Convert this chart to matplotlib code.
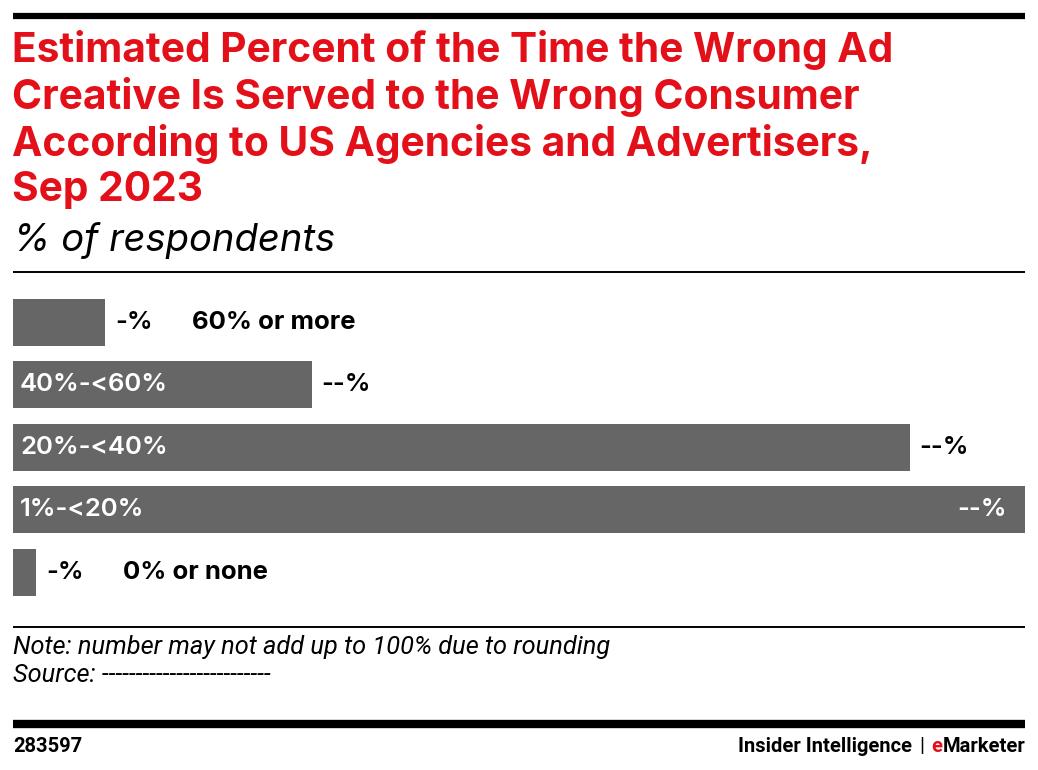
import matplotlib
matplotlib.use("Agg")
import matplotlib.pyplot as plt
from matplotlib.lines import Line2D

# data
categories = ["60% or more", "40%-<60%", "20%-<40%", "1%-<20%", "0% or none"]
values = [4, 13, 39, 44, 1]
value_labels = ["-%", "--%", "--%", "--%", "-%"]

title = ("Estimated Percent of the Time the Wrong Ad\n"
         "Creative Is Served to the Wrong Consumer\n"
         "According to US Agencies and Advertisers,\n"
         "Sep 2023")
subtitle = "% of respondents"
note = "Note: number may not add up to 100% due to rounding"
source = "Source: -------------------------"
chart_id = "283597"

RED = "#E3101A"
GRAY = "#666666"
W, H = 1038, 770
FONT = "Inter"
SMALL = "Roboto"

fig = plt.figure(figsize=(W / 100, H / 100), dpi=100)


def fx(px):
    return px / W


def fy(py):
    return 1 - py / H


def hline(y, lw):
    fig.add_artist(Line2D([fx(13), fx(1025)], [fy(y), fy(y)], color="black",
                          lw=lw, transform=fig.transFigure, solid_capstyle="butt"))


hline(15.5, 4.5)
fig.text(fx(12), fy(30), title, color=RED, fontsize=29.3, fontweight="bold",
         family=FONT, va="top", ha="left", linespacing=1.22)
fig.text(fx(13), fy(222), subtitle, fontsize=27.5, style="italic", family=FONT,
         va="top", ha="left")
hline(271.5, 1.4)

ax = fig.add_axes([fx(13), fy(603.5), fx(1025) - fx(13), (603.5 - 291) / H])
ypos = list(range(len(categories)))
ax.barh(ypos, values, height=0.75, color=GRAY)
ax.set_xlim(0, max(values))
ax.set_ylim(len(categories) - 0.5, -0.5)
ax.axis("off")

LS = 18.5
for i, (cat, v, lab) in enumerate(zip(categories, values, value_labels)):
    if v < 10:
        # category doesn't fit inside the bar
        ax.annotate(lab, (v, i), xytext=(10, 0), textcoords="offset pixels",
                    va="center", ha="left", fontsize=LS, family=FONT,
                    fontweight="semibold")
        ax.annotate(cat, (v, i), xytext=(87, 0), textcoords="offset pixels",
                    va="center", ha="left", fontsize=LS, family=FONT,
                    fontweight="bold")
    else:
        ax.annotate(cat, (0, i), xytext=(7, 0), textcoords="offset pixels",
                    va="center", ha="left", fontsize=LS, family=FONT,
                    fontweight="semibold", color="white")
        if v == max(values):
            ax.annotate(lab, (v, i), xytext=(-18, 0), textcoords="offset pixels",
                        va="center", ha="right", fontsize=LS, family=FONT,
                        fontweight="semibold", color="white")
        else:
            ax.annotate(lab, (v, i), xytext=(9, 0), textcoords="offset pixels",
                        va="center", ha="left", fontsize=LS, family=FONT,
                        fontweight="semibold")

hline(626.5, 1.4)
fig.text(fx(13), fy(647), note, fontsize=18.3, style="italic",
         family=SMALL, va="center", ha="left")
fig.text(fx(13), fy(675), source, fontsize=18.3, style="italic",
         family=SMALL, va="center", ha="left")
hline(724, 6)
fig.text(fx(13), fy(746), chart_id, fontsize=14.5, fontweight="bold",
         family=SMALL, va="center", ha="left")

# footer brand, built right to left
fig.canvas.draw()
r = fig.canvas.get_renderer()
x = 1025
for txt, col in [("Marketer", "black"), ("e", RED), ("|", "black"),
                 ("Insider Intelligence", "black")]:
    t = fig.text(fx(x), fy(746), txt, fontsize=14.5, fontweight="bold" if txt != "|" else "normal",
                 family=SMALL, va="center", ha="right", color=col)
    bb = t.get_window_extent(r)
    x = bb.x0 - (7 if txt in ("e", "|") else 0)

fig.savefig("out.png", dpi=100)
